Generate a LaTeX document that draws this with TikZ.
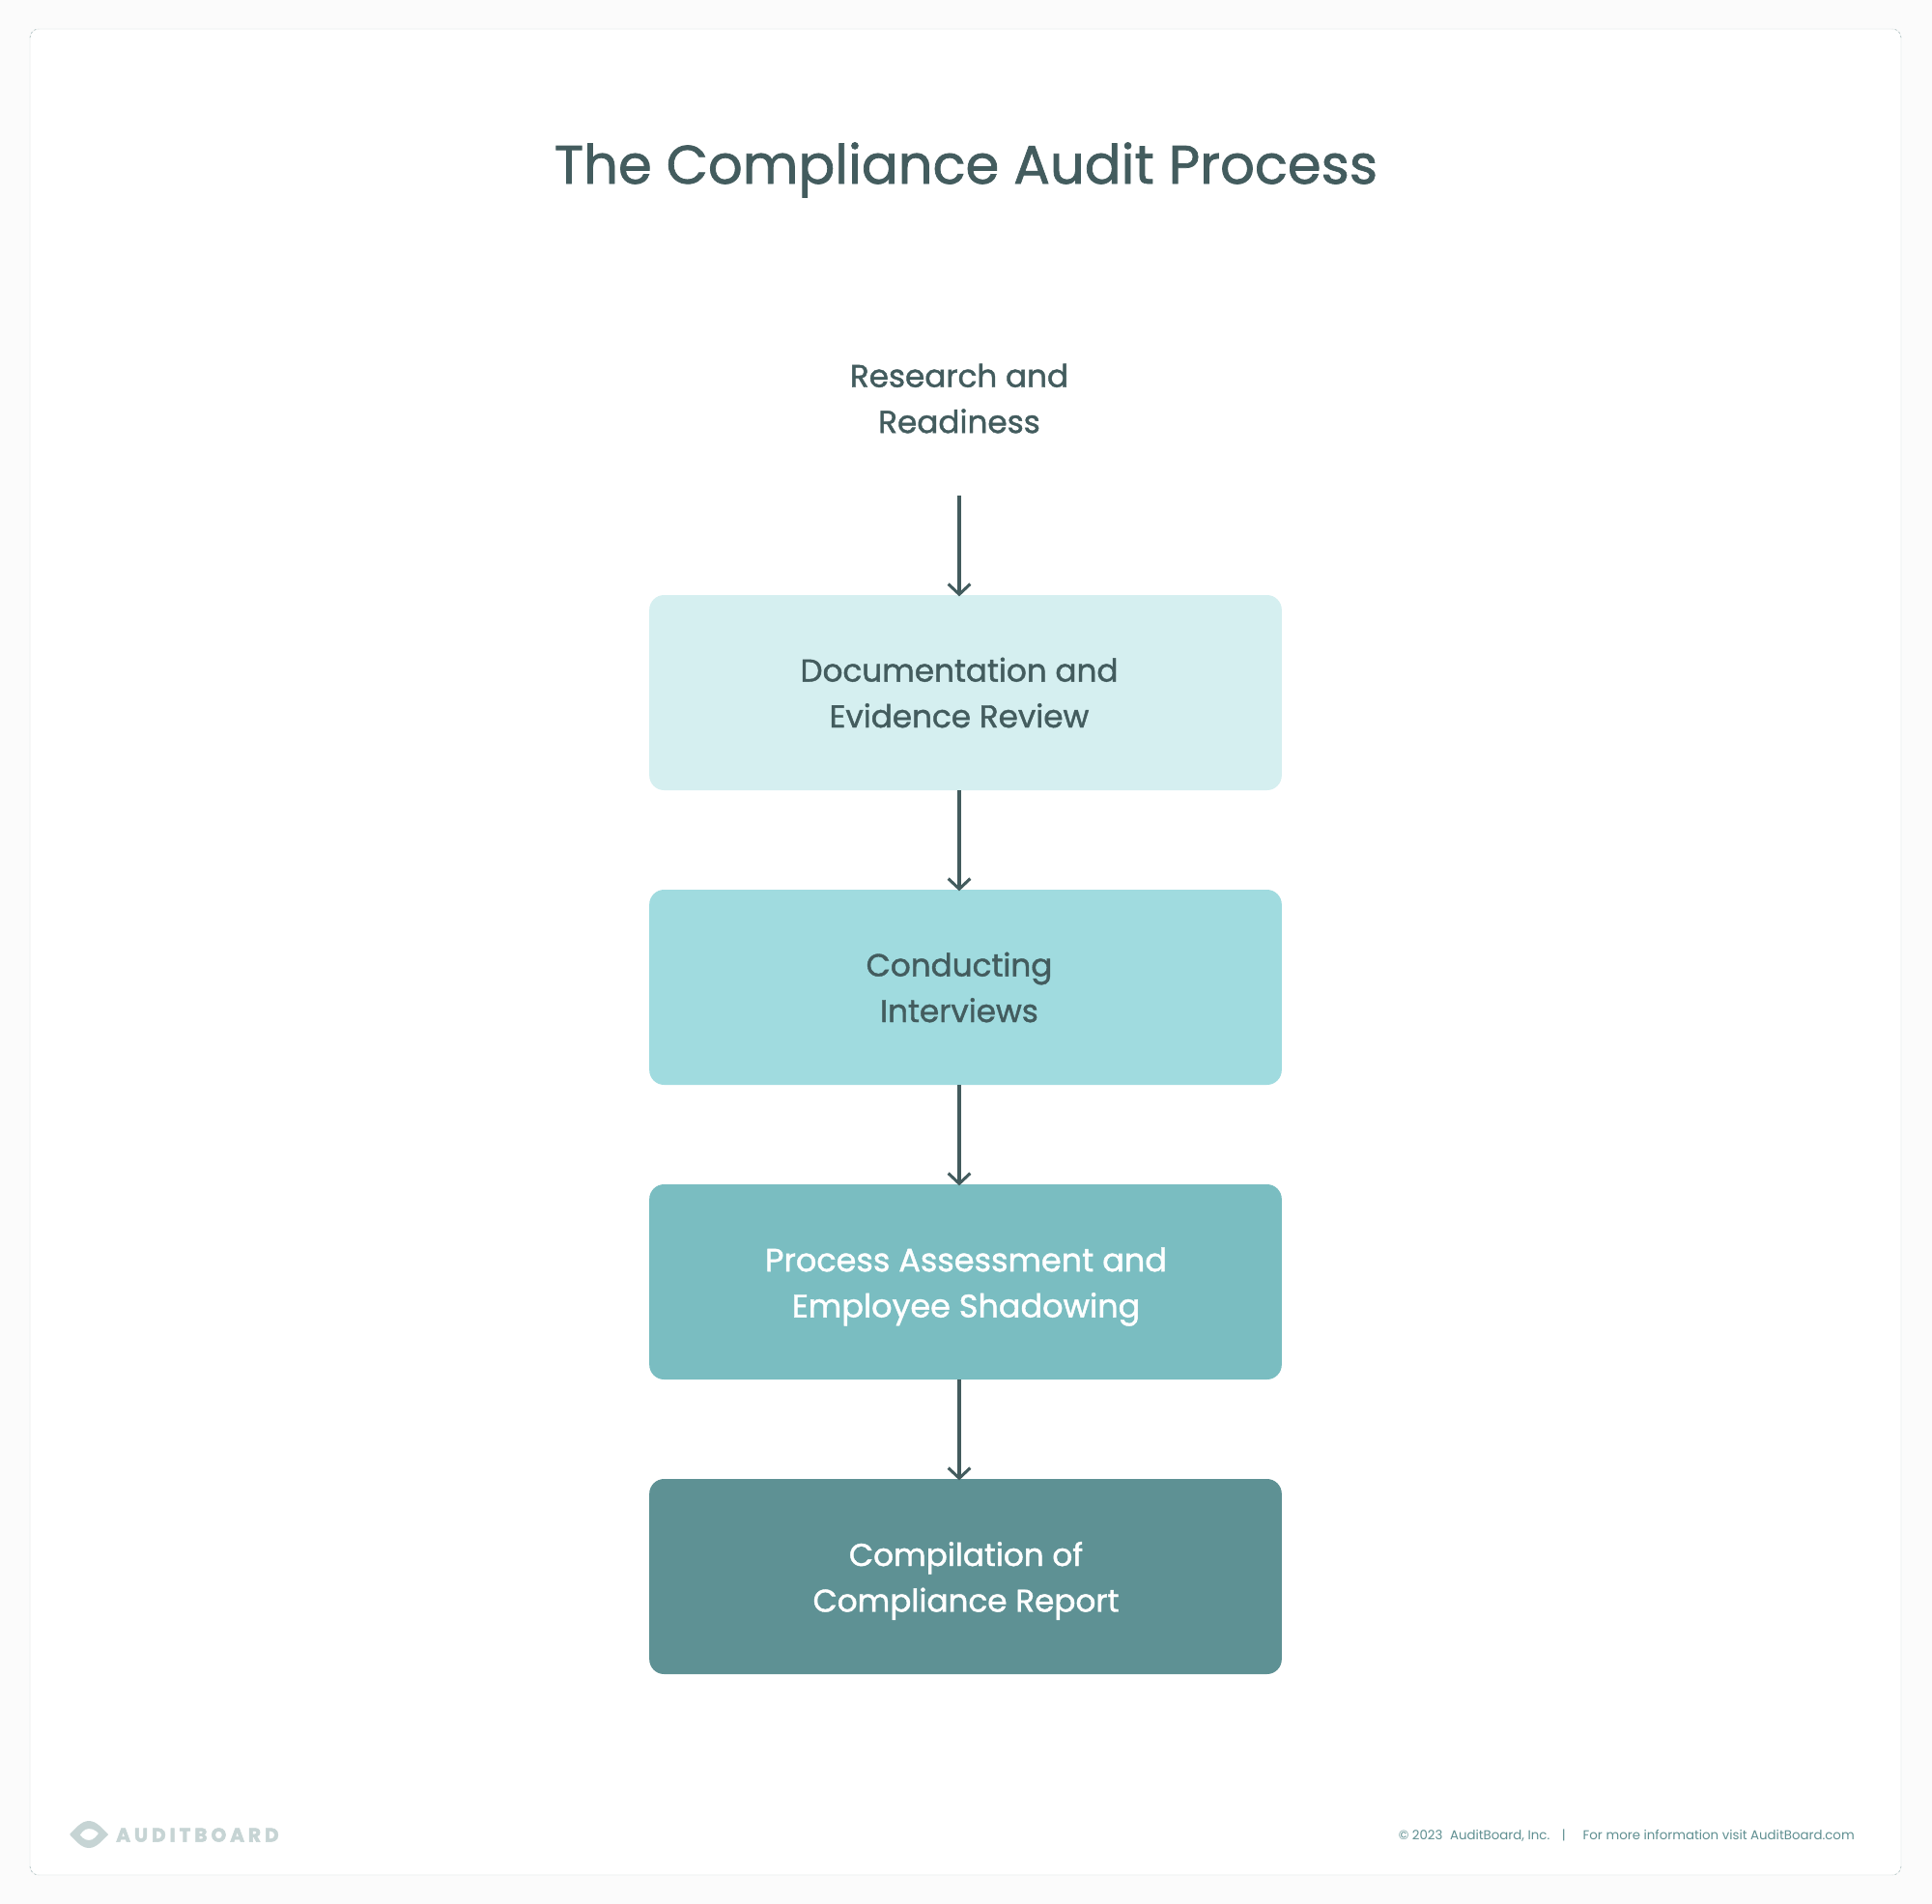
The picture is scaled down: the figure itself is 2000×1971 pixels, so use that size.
\documentclass[tikz,border=0pt]{standalone}
\usepackage{fontspec}
\usepackage{xcolor}
\usetikzlibrary{arrows.meta}
\setmainfont{Poppins}[FakeBold=1.3]
\definecolor{inkdark}{HTML}{435C5E}
\definecolor{pagegrey}{HTML}{FBFBFB}
\definecolor{cardedge}{HTML}{F3F5F5}
\definecolor{cornermark}{HTML}{9DB5B6}
\definecolor{boxone}{HTML}{D5EFF0}
\definecolor{boxtwo}{HTML}{A0DBDF}
\definecolor{boxthree}{HTML}{7ABDC1}
\definecolor{boxfour}{HTML}{5E9194}
\definecolor{logogrey}{HTML}{C6D4D4}
\definecolor{footgreen}{HTML}{5F8F91}
\tikzset{
  stepbox/.style={rounded corners=11.5pt,minimum width=491pt,minimum height=151.5pt,inner sep=0pt,outer sep=0pt},
  steptext/.style={align=center,inner sep=0pt,font=\fontsize{24.5}{35.6}\selectfont},
  flow/.style={color=inkdark,line width=2.3pt,shorten >=-1pt,-{Straight Barb[length=8pt,width=17pt,line width=2.3pt]}},
}
\begin{document}
\begin{tikzpicture}[x=0.75pt,y=0.75pt,yscale=-1,xscale=1]
\useasboundingbox (0,0) rectangle (2000,1971);

% Page and card
\fill [pagegrey] (0,0) rectangle (2000,1971);
\draw [cardedge,fill=white,line width=0.8pt,rounded corners=7pt] (31,30) rectangle (1968,1941);
\foreach \cx/\cy/\sx/\sy in {31/30/1/1,1968/30/-1/1,31/1941/1/-1,1968/1941/-1/-1}
  \draw [cornermark,line width=0.4pt,dash pattern=on 1.5pt off 2pt] (\cx,\cy+\sy*9) .. controls (\cx,\cy+\sy*4) and (\cx+\sx*4,\cy) .. (\cx+\sx*9,\cy);

% Title
\draw (1000,176) node [color=inkdark,inner sep=0pt,font=\fontsize{42}{50}\selectfont] (title) {The Compliance Audit Process};

% Steps
\draw (993,412.5) node [steptext,color=inkdark] (research) {Research and\\Readiness};
\draw (999.5,717) node [stepbox,fill=boxone] (doc) {};
\draw (993,717) node [steptext,color=inkdark] (doctext) {Documentation and\\Evidence Review};
\draw (999.5,1022) node [stepbox,fill=boxtwo] (interview) {};
\draw (993,1022) node [steptext,color=inkdark] (interviewtext) {Conducting\\Interviews};
\draw (999.5,1327) node [stepbox,fill=boxthree] (assess) {};
\draw (1000,1332) node [steptext,color=white,font=\fontsize{25.1}{35.6}\selectfont] (assesstext) {Process Assessment and\\Employee Shadowing};
\draw (999.5,1632) node [stepbox,fill=boxfour] (report) {};
\draw (1000,1636.5) node [steptext,color=white] (reporttext) {Compilation of\\Compliance Report};

% Arrows
\coordinate (flowtop) at (993,513);
\draw [flow] (flowtop) -- (doc.north -| flowtop);
\draw [flow] (doc.south -| flowtop) -- (interview.north -| flowtop);
\draw [flow] (interview.south -| flowtop) -- (assess.north -| flowtop);
\draw [flow] (assess.south -| flowtop) -- (report.north -| flowtop);

% Logo
\fill [logogrey] (72,1899) .. controls (78,1893) and (84,1885) .. (92,1885) .. controls (100,1885) and (106,1893) .. (112,1899) -- (106,1904) .. controls (103,1897) and (98,1893) .. (92,1893) .. controls (87,1893) and (84,1897) .. (80,1904) -- cycle;
\fill [logogrey] (73,1900) -- (80,1895) .. controls (83,1901) and (87,1905) .. (92,1905) .. controls (97,1905) and (100,1901) .. (104,1895) -- (112,1899) .. controls (106,1905) and (100,1913) .. (92,1913) .. controls (84,1913) and (78,1905) .. (73,1900) -- cycle;
\draw (120,1899.5) node [anchor=west,color=logogrey,inner sep=0pt,font=\fontsize{15}{16}\selectfont\bfseries\addfontfeatures{FakeBold=2.5,LetterSpace=20}] (logotext) {AUDITBOARD};

% Footer
\draw (1920,1900) node [anchor=east,color=footgreen,inner sep=0pt,font=\fontsize{10}{12}\selectfont\addfontfeatures{FakeBold=0}] (footer) {© 2023\hspace{5.7pt}AuditBoard, Inc.\hspace{9.5pt}|\hspace{13.4pt}For more information visit AuditBoard.com};

\end{tikzpicture}
\end{document}
